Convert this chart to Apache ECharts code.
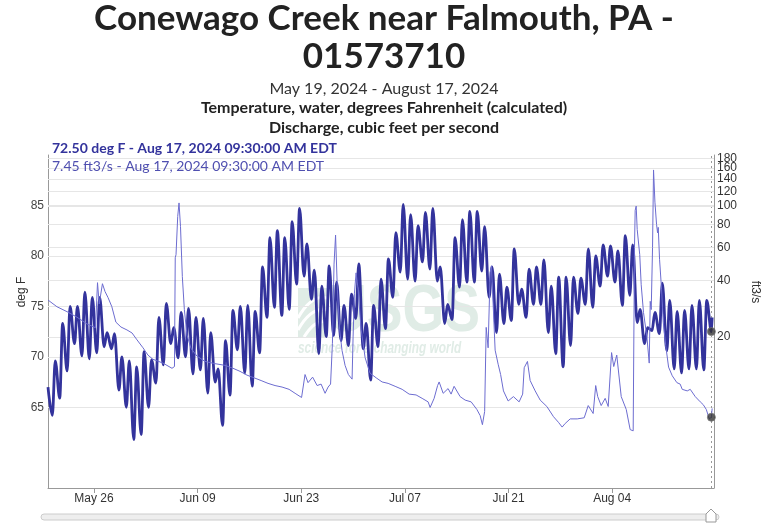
<!DOCTYPE html>
<html>
<head>
<meta charset="utf-8">
<script src="https://cdn.jsdelivr.net/npm/echarts@6/dist/echarts.min.js"></script>
<style>
  html, body { margin: 0; padding: 0; background: #fff; }
  #chart { width: 768px; height: 524px; }
</style>
</head>
<body>
<div id="chart"></div>
<script>
// water temperature (deg F): daily low (~09:00) and high (~18:30), first day May 20
const tempFirstDay = [2024, 4, 20];
const tempLow = [64.2, 65.9, 68.6, 71.3, 70.1, 69.8, 70.4, 71.0, 70.8, 66.7,
  65.0, 61.8, 62.3, 65.0, 67.4, 69.2, 71.3, 69.9, 70.0, 68.3,
  68.7, 66.4, 67.5, 63.2, 66.2, 70.7, 68.4, 67.1, 70.4, 73.9,
  74.9, 74.1, 74.7, 77.2, 78.0, 75.7, 70.3, 72.0, 72.1, 71.6,
  71.1, 73.8, 70.8, 67.7, 71.0, 72.8, 75.9, 78.4, 77.7, 77.5,
  79.4, 78.7, 77.5, 73.3, 73.7, 76.9, 77.4, 77.4, 78.5, 75.9,
  72.4, 73.3, 73.6, 75.2, 73.9, 75.2, 75.2, 72.4, 70.3, 69.0,
  71.1, 74.3, 75.2, 74.9, 77.0, 78.0, 77.4, 75.1, 76.1, 73.4,
  71.3, 72.6, 72.3, 70.6, 68.8, 68.4, 68.8, 68.8, 68.7];
const tempHigh = [69.6, 73.3, 75.0, 75.0, 76.4, 75.9, 75.9, 72.4, 72.3, 70.0,
  69.6, 69.0, 70.5, 69.7, 73.9, 75.3, 72.9, 74.4, 74.8, 73.9,
  73.8, 72.4, 68.8, 71.6, 74.6, 75.0, 75.1, 74.5, 78.9, 81.8,
  82.5, 81.8, 83.4, 84.7, 81.2, 78.6, 77.0, 79.0, 77.4, 75.1,
  76.2, 79.2, 73.3, 75.1, 77.7, 79.7, 82.3, 85.1, 84.1, 83.0,
  84.3, 84.7, 78.9, 75.2, 81.8, 83.6, 84.4, 84.4, 82.9, 78.9,
  78.2, 76.9, 80.7, 76.7, 78.7, 78.9, 79.6, 77.0, 77.9, 77.9,
  77.9, 77.8, 80.7, 80.0, 81.1, 81.0, 80.5, 82.0, 81.1, 74.7,
  72.9, 74.4, 77.3, 75.6, 74.5, 74.6, 75.1, 75.6, 75.6];
const tempEdgeTimes = ['2024-05-19 19:00', '2024-08-17 09:30', '2024-08-17 12:00'];
const tempEdgeVals = [67.0, 72.5, 73.9];

// discharge (ft3/s)
const qTimes = ['2024-05-19 19:00', '2024-05-21 00:00', '2024-05-22 08:30', '2024-05-23 17:00', '2024-05-25 01:00',
  '2024-05-26 05:00', '2024-05-26 11:30', '2024-05-26 17:00', '2024-05-27 03:30', '2024-05-27 11:45',
  '2024-05-27 21:30', '2024-05-28 10:00', '2024-05-28 23:00', '2024-05-29 15:30', '2024-05-30 11:00',
  '2024-05-31 03:30', '2024-05-31 19:30', '2024-06-01 15:00', '2024-06-02 07:00', '2024-06-02 23:00',
  '2024-06-04 07:45', '2024-06-05 13:00', '2024-06-05 21:00', '2024-06-05 23:30', '2024-06-06 02:00',
  '2024-06-06 07:30', '2024-06-06 11:45', '2024-06-06 16:30', '2024-06-06 22:30', '2024-06-07 05:00',
  '2024-06-07 13:30', '2024-06-08 02:30', '2024-06-08 22:00', '2024-06-10 00:00', '2024-06-11 08:30',
  '2024-06-12 17:00', '2024-06-13 18:45', '2024-06-14 17:30', '2024-06-15 16:15', '2024-06-16 15:00',
  '2024-06-17 13:45', '2024-06-18 12:15', '2024-06-19 11:00', '2024-06-20 09:45', '2024-06-21 08:30',
  '2024-06-22 04:00', '2024-06-23 01:00', '2024-06-23 12:15', '2024-06-23 22:00', '2024-06-24 12:45',
  '2024-06-25 03:30', '2024-06-25 16:15', '2024-06-26 05:15', '2024-06-26 15:00', '2024-06-26 23:00',
  '2024-06-27 05:00', '2024-06-27 10:15', '2024-06-27 15:15', '2024-06-27 21:00', '2024-06-28 04:15',
  '2024-06-28 12:15', '2024-06-28 22:00', '2024-06-29 08:45', '2024-06-29 20:45', '2024-06-30 00:00',
  '2024-06-30 04:15', '2024-06-30 09:45', '2024-06-30 16:15', '2024-07-01 02:00', '2024-07-01 15:00',
  '2024-07-02 07:00', '2024-07-03 02:45', '2024-07-03 22:00', '2024-07-04 17:30', '2024-07-05 16:15',
  '2024-07-06 15:00', '2024-07-07 13:45', '2024-07-08 12:15', '2024-07-09 07:45', '2024-07-10 03:15',
  '2024-07-10 09:45', '2024-07-10 22:45', '2024-07-11 10:00', '2024-07-11 15:00', '2024-07-12 04:00',
  '2024-07-12 20:00', '2024-07-13 05:45', '2024-07-13 15:30', '2024-07-14 11:00', '2024-07-15 03:15',
  '2024-07-15 22:45', '2024-07-16 17:15', '2024-07-17 04:00', '2024-07-17 11:15', '2024-07-17 18:30',
  '2024-07-17 23:30', '2024-07-18 05:45', '2024-07-18 12:15', '2024-07-18 16:30', '2024-07-18 22:00',
  '2024-07-19 04:30', '2024-07-19 14:15', '2024-07-19 22:15', '2024-07-20 07:30', '2024-07-20 22:45',
  '2024-07-21 15:45', '2024-07-22 10:15', '2024-07-22 21:45', '2024-07-23 02:45', '2024-07-23 13:15',
  '2024-07-23 22:00', '2024-07-24 14:15', '2024-07-25 06:30', '2024-07-26 04:15', '2024-07-27 01:45',
  '2024-07-27 17:45', '2024-07-28 05:45', '2024-07-28 15:30', '2024-07-29 07:45', '2024-07-30 06:30',
  '2024-07-31 05:15', '2024-07-31 18:15', '2024-08-01 10:15', '2024-08-01 18:30', '2024-08-02 01:00',
  '2024-08-02 12:15', '2024-08-03 01:15', '2024-08-03 11:00', '2024-08-03 22:00', '2024-08-04 05:00',
  '2024-08-04 14:45', '2024-08-05 05:15', '2024-08-05 21:30', '2024-08-06 10:15', '2024-08-06 20:00',
  '2024-08-07 00:15', '2024-08-07 02:30', '2024-08-07 05:45', '2024-08-07 09:00', '2024-08-07 13:15',
  '2024-08-07 17:15', '2024-08-07 22:00', '2024-08-08 05:30', '2024-08-08 16:30', '2024-08-09 00:00',
  '2024-08-09 03:15', '2024-08-09 06:30', '2024-08-09 10:45', '2024-08-09 14:00', '2024-08-09 18:30',
  '2024-08-09 23:45', '2024-08-10 03:00', '2024-08-10 05:15', '2024-08-10 09:30', '2024-08-10 16:00',
  '2024-08-10 21:30', '2024-08-11 05:30', '2024-08-11 14:45', '2024-08-12 02:45', '2024-08-12 17:45',
  '2024-08-13 04:15', '2024-08-13 11:00', '2024-08-14 03:15', '2024-08-14 13:00', '2024-08-15 05:15',
  '2024-08-15 21:30', '2024-08-16 07:00', '2024-08-16 17:00', '2024-08-17 02:45', '2024-08-17 09:30',
  '2024-08-17 12:00'];
const qVals = [31.5, 29.0, 27.3, 25.5, 23.5,
  22.4, 39.0, 30.0, 38.5, 35.0,
  32.5, 29.0, 24.0, 22.6, 21.8,
  21.0, 19.3, 17.5, 16.0, 15.2,
  14.5, 13.6, 13.9, 53.0, 55.0,
  88, 104, 78, 42, 28,
  20.5, 17.4, 15.8, 14.8, 14.4,
  14.1, 13.6, 13.1, 12.5, 12.1,
  11.7, 11.3, 11.0, 10.8, 10.5,
  10.0, 9.5, 12.6, 11.4, 12.2,
  11.0, 11.2, 10.0, 10.8, 11.2,
  18.5, 49, 70, 36, 22,
  16.9, 14.1, 12.6, 11.9, 20,
  34, 44, 36, 22, 15.5,
  12.8, 12.1, 11.5, 11.3, 10.9,
  10.5, 9.9, 9.8, 9.4, 9.0,
  8.4, 9.4, 11.0, 11.5, 10.0,
  10.6, 9.9, 10.9, 9.6, 9.2,
  9.0, 8.2, 7.6, 6.8, 8.0,
  22.5, 17.5, 44, 48, 30,
  17, 14.3, 12.6, 10.3, 9.1,
  9.6, 9.0, 9.9, 13.7, 14.8,
  11.7, 10.3, 9.2, 8.5, 7.5,
  7.0, 6.6, 6.9, 7.3, 7.3,
  7.4, 8.6, 7.8, 11.0, 9.6,
  8.6, 9.4, 8.5, 16.5, 13.9,
  16.0, 9.6, 8.2, 6.4, 6.3,
  60, 95, 100, 75, 76,
  55, 38, 27, 20, 14.5,
  31, 28, 60, 156, 105,
  80, 72, 77, 52, 36,
  24, 18, 13.8, 12.4, 11.4,
  11.2, 10.5, 10.3, 10.5, 9.6,
  9.0, 8.7, 8.2, 7.3, 7.45,
  8.3];

// hovered reading shown in the header lines
const hoverTime = '2024-08-17 09:30';
const hoverTemp = 72.5;
const hoverQ = 7.45;

const tempGrid = [65, 70, 75, 80, 85];
const qGrid = [20, 40, 60, 80, 100, 120, 140, 160, 180];
const xTickDates = ['2024-05-26 00:00', '2024-06-09 00:00', '2024-06-23 00:00', '2024-07-07 00:00', '2024-07-21 00:00', '2024-08-04 00:00'];
const xTickLabels = ['May 26', 'Jun 09', 'Jun 23', 'Jul 07', 'Jul 21', 'Aug 04'];

function ts(s) {
  const [d, t] = s.split(' ');
  const [Y, M, D] = d.split('-').map(Number);
  const [h, m] = (t || '00:00').split(':').map(Number);
  return new Date(Y, M - 1, D, h, m).getTime();
}

let tempData = [[ts(tempEdgeTimes[0]), tempEdgeVals[0]]];
for (let i = 0; i < tempLow.length; i++) {
  tempData.push([new Date(tempFirstDay[0], tempFirstDay[1], tempFirstDay[2] + i, 9, 0).getTime(), tempLow[i]]);
  tempData.push([new Date(tempFirstDay[0], tempFirstDay[1], tempFirstDay[2] + i, 18, 30).getTime(), tempHigh[i]]);
}
for (let i = 1; i < tempEdgeTimes.length; i++) {
  tempData.push([ts(tempEdgeTimes[i]), tempEdgeVals[i]]);
}
const qData = qTimes.map((t, i) => [ts(t), qVals[i]]);
const xTickVals = xTickDates.map(ts);

const chart = echarts.init(document.getElementById('chart'));
const navy = '#33339c';
const light = '#6c6cd0';
const gridColor = '#e6e6e6';
const wm = '#e0ece6'; // watermark tint

chart.setOption({
  animation: false,
  title: [
    {
      text: 'Conewago Creek near Falmouth, PA -\n01573710', left: 'center', top: 0, padding: 0,
      textStyle: { fontFamily: 'Lato', fontSize: 35, fontWeight: 'bold', color: '#222', lineHeight: 38 }
    },
    {
      text: 'May 19, 2024 - August 17, 2024', left: 'center', top: 79, padding: 0,
      textStyle: { fontFamily: 'Lato', fontSize: 16, fontWeight: 'normal', color: '#333', lineHeight: 20 }
    },
    {
      text: 'Temperature, water, degrees Fahrenheit (calculated)', left: 'center', top: 98, padding: 0,
      textStyle: { fontFamily: 'Lato', fontSize: 16, fontWeight: 'bold', color: '#222', lineHeight: 20 }
    },
    {
      text: 'Discharge, cubic feet per second', left: 'center', top: 118, padding: 0,
      textStyle: { fontFamily: 'Lato', fontSize: 16, fontWeight: 'bold', color: '#222', lineHeight: 20 }
    },
    {
      text: '72.50 deg F - Aug 17, 2024 09:30:00 AM EDT', left: 52, top: 140, padding: 0,
      textStyle: { fontFamily: 'Lato', fontSize: 14, fontWeight: 'bold', color: navy, lineHeight: 16 }
    },
    {
      text: '7.45 ft3/s - Aug 17, 2024 09:30:00 AM EDT', left: 52, top: 158, padding: 0,
      textStyle: { fontFamily: 'Lato', fontSize: 14, fontWeight: 'normal', color: '#4f4fb0', lineHeight: 16 }
    }
  ],
  graphic: [
    // faint USGS logo behind the plot
    { type: 'rect', shape: { x: 298, y: 288, width: 29, height: 49 }, style: { fill: wm }, z: 0 },
    { type: 'bezierCurve', shape: { x1: 298, y1: 318, cpx1: 308, cpy1: 300, cpx2: 318, cpy2: 296, x2: 327, y2: 298 }, style: { stroke: '#fff', lineWidth: 3, fill: null }, z: 0 },
    { type: 'bezierCurve', shape: { x1: 298, y1: 330, cpx1: 308, cpy1: 312, cpx2: 318, cpy2: 308, x2: 327, y2: 310 }, style: { stroke: '#fff', lineWidth: 3, fill: null }, z: 0 },
    { type: 'bezierCurve', shape: { x1: 304, y1: 337, cpx1: 312, cpy1: 324, cpx2: 320, cpy2: 320, x2: 327, y2: 322 }, style: { stroke: '#fff', lineWidth: 3, fill: null }, z: 0 },
    { type: 'text', x: 328, y: 313, scaleX: 0.8, style: { text: 'USGS', fontFamily: 'Liberation Sans', fontSize: 67, fontWeight: 'bold', fill: wm, align: 'left', verticalAlign: 'middle' }, z: 0 },
    { type: 'text', x: 298, y: 349, scaleX: 0.74, style: { text: 'science for a changing world', fontFamily: 'Liberation Sans', fontSize: 16, fontWeight: 'bold', fontStyle: 'italic', fill: wm, align: 'left', verticalAlign: 'middle' }, z: 0 },
    // axis titles
    { type: 'text', x: 22, y: 292, rotation: Math.PI / 2, style: { text: 'deg F', fontFamily: 'Liberation Sans', fontSize: 12, fill: '#333', align: 'center', verticalAlign: 'middle' } },
    { type: 'text', x: 755, y: 292, rotation: -Math.PI / 2, style: { text: 'ft3/s', fontFamily: 'Liberation Sans', fontSize: 12, fill: '#333', align: 'center', verticalAlign: 'middle' } },
    // navigator scrollbar
    { type: 'rect', shape: { x: 41, y: 514, width: 678, height: 6, r: 3 }, style: { fill: '#eeeeee', stroke: '#cccccc', lineWidth: 1 } },
    { type: 'polygon', shape: { points: [[706, 522], [706, 514], [711, 509], [716, 514], [716, 522]] }, style: { fill: '#ffffff', stroke: '#999999', lineWidth: 1 } }
  ],
  grid: { left: 48, right: 54, top: 155, bottom: 36 },
  xAxis: {
    type: 'value',
    min: ts('2024-05-19 19:00'),
    max: ts('2024-08-17 18:00'),
    axisLine: { lineStyle: { color: '#999', width: 1 } },
    axisTick: { customValues: xTickVals, length: 5, lineStyle: { color: '#999' } },
    axisLabel: {
      customValues: xTickVals, color: '#333', fontSize: 12, fontFamily: 'Liberation Sans', margin: 5,
      formatter: (v) => {
        const i = xTickVals.indexOf(v);
        return i >= 0 ? xTickLabels[i] : '';
      }
    },
    splitLine: { show: false }
  },
  yAxis: [
    {
      type: 'value', min: 57, max: 90, position: 'left',
      axisLine: { show: true, lineStyle: { color: '#999', width: 1 } },
      axisTick: { show: false },
      axisLabel: { customValues: tempGrid, color: '#444', fontSize: 12, fontFamily: 'Liberation Sans', margin: 4 },
      splitLine: { show: false }
    },
    {
      type: 'log', logBase: 10, min: 3.12, max: 187.5, position: 'right',
      axisLine: { show: true, lineStyle: { color: '#999', width: 1 } },
      axisTick: { show: false },
      axisLabel: { show: false },
      splitLine: { show: false }
    }
  ],
  series: [
    {
      name: 'Temperature', type: 'line', yAxisIndex: 0, data: tempData,
      showSymbol: false, smooth: 0.35, smoothMonotone: 'x',
      lineStyle: { color: navy, width: 2.8 }, itemStyle: { color: navy },
      markLine: {
        silent: true, symbol: 'none', z: 1, animation: false,
        label: { show: false },
        lineStyle: { color: gridColor, type: 'solid', width: 1 },
        data: tempGrid.map(v => ({ yAxis: v })).concat([
          { xAxis: ts(hoverTime), lineStyle: { color: '#999', type: [2, 3], width: 1 } }
        ])
      }
    },
    {
      name: 'Discharge', type: 'line', yAxisIndex: 1, data: qData,
      showSymbol: false,
      lineStyle: { color: light, width: 1 }, itemStyle: { color: light },
      markLine: {
        silent: true, symbol: 'none', z: 1, animation: false,
        lineStyle: { color: gridColor, type: 'solid', width: 1 },
        label: { show: true, position: 'end', distance: 3, color: '#333', fontSize: 12, fontFamily: 'Liberation Sans', formatter: (p) => String(p.value) },
        data: qGrid.map(v => ({ yAxis: v }))
      }
    },
    {
      name: 'hoverTemp', type: 'scatter', yAxisIndex: 0, z: 6,
      data: [[ts(hoverTime), hoverTemp]], symbolSize: 8,
      itemStyle: { color: '#333', borderColor: '#777', borderWidth: 1 }
    },
    {
      name: 'hoverQ', type: 'scatter', yAxisIndex: 1, z: 6,
      data: [[ts(hoverTime), hoverQ]], symbolSize: 8,
      itemStyle: { color: '#333', borderColor: '#777', borderWidth: 1 }
    }
  ]
});
window.addEventListener('resize', () => chart.resize());
</script>
</body>
</html>
